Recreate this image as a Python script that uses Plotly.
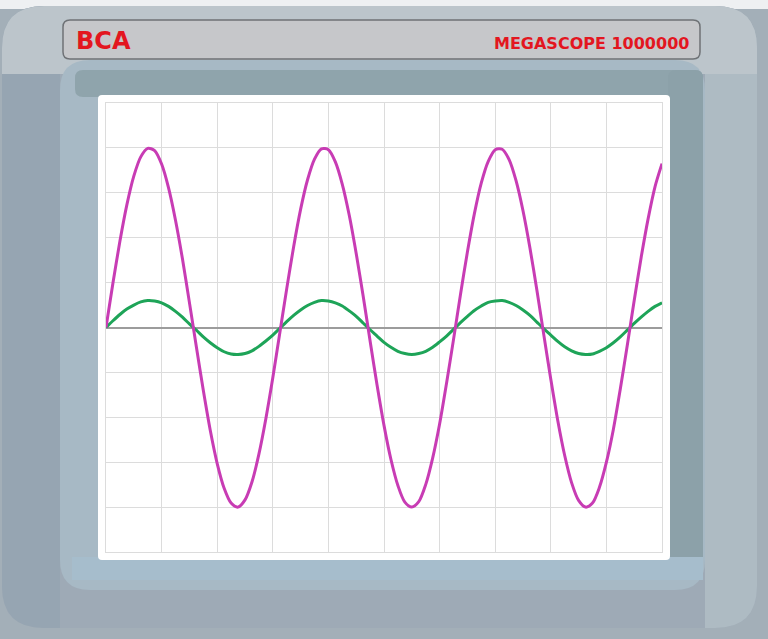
import plotly.graph_objects as go

# ---- data (divisions) ----
time_div = [i * 0.125 for i in range(81)]
channel_a = [0, 0.99, 1.92, 2.73, 3.37, 3.80, 3.99, 3.94, 3.64, 3.11,
             2.39, 1.53, 0.56, -0.43, -1.40, -2.29, -3.03, -3.58, -3.91, -4.00,
             -3.84, -3.44, -2.82, -2.03, -1.12, -0.13, 0.86, 1.80, 2.63, 3.29,
             3.75, 3.98, 3.96, 3.69, 3.19, 2.50, 1.65, 0.70, -0.30, -1.28,
             -2.18, -2.94, -3.52, -3.89, -4.00, -3.88, -3.50, -2.91, -2.15, -1.24,
             -0.27, 0.73, 1.68, 2.53, 3.22, 3.70, 3.96, 3.97, 3.74, 3.27,
             2.60, 1.77, 0.83, -0.17, -1.15, -2.07, -2.85, -3.46, -3.85, -4.00,
             -3.91, -3.56, -3.00, -2.27, -1.37, -0.40, 0.60, 1.56, 2.42, 3.14,
             3.65]
channel_b = [0, 0.15, 0.29, 0.41, 0.50, 0.57, 0.60, 0.59, 0.55, 0.47,
             0.36, 0.23, 0.08, -0.06, -0.21, -0.34, -0.45, -0.54, -0.59, -0.60,
             -0.58, -0.52, -0.42, -0.30, -0.17, -0.02, 0.13, 0.27, 0.39, 0.49,
             0.56, 0.60, 0.59, 0.55, 0.48, 0.37, 0.25, 0.10, -0.05, -0.19,
             -0.33, -0.44, -0.53, -0.58, -0.60, -0.58, -0.53, -0.44, -0.32, -0.19,
             -0.04, 0.11, 0.25, 0.38, 0.48, 0.56, 0.59, 0.60, 0.56, 0.49,
             0.39, 0.27, 0.12, -0.03, -0.17, -0.31, -0.43, -0.52, -0.58, -0.60,
             -0.59, -0.53, -0.45, -0.34, -0.21, -0.06, 0.09, 0.23, 0.36, 0.47,
             0.55]
brand = "BCA"
model = "MEGASCOPE 1000000"

W, H = 768, 639
L, R, T, B = 106, 662, 103, 552


def P(x, y):
    return (x - L) / (R - L), (B - y) / (B - T)


def rrect(x0, y0, x1, y1, r):
    if not isinstance(r, (tuple, list)):
        r = (r, r, r, r)
    tl, tr, br, bl = r

    def f(x, y):
        px, py = P(x, y)
        return f"{px:.5f},{py:.5f}"
    s = f"M {f(x0 + tl, y0)} L {f(x1 - tr, y0)} Q {f(x1, y0)} {f(x1, y0 + tr)} "
    s += f"L {f(x1, y1 - br)} Q {f(x1, y1)} {f(x1 - br, y1)} "
    s += f"L {f(x0 + bl, y1)} Q {f(x0, y1)} {f(x0, y1 - bl)} "
    s += f"L {f(x0, y0 + tl)} Q {f(x0, y0)} {f(x0 + tl, y0)} Z"
    return s


shapes = []


def add(path, fill, line_color=None, lw=0):
    shapes.append(dict(type="path", path=path, xref="paper", yref="paper", layer="below",
                       fillcolor=fill, line=dict(color=line_color or fill, width=lw)))


# background pieces (oscilloscope bezel)
add(rrect(-5, -20, 780, 9, 0), "#eef0f2")
add(rrect(2, 6, 757, 628, 42), "#9eaab6")
add(rrect(2, 6, 60, 628, (42, 0, 0, 42)), "#96a5b2")
add(rrect(705, 6, 757, 628, (0, 42, 42, 0)), "#aebbc3")
add(rrect(2, 6, 757, 74, (42, 42, 0, 0)), "#bcc5cb")
add(rrect(60, 60, 705, 590, 30), "#a7b9c5")
add(rrect(75, 70, 703, 97, 8), "#8fa4ac")
add(rrect(668, 70, 703, 572, 8), "#8ca1a9")
add(rrect(72, 557, 703, 580, 0), "#a6bdcc")
# header bar
add(rrect(63, 20, 700, 59, 7), "#c6c7ca", "#6f7276", 1.5)
# screen
add(rrect(98, 95, 670, 560, 4), "#ffffff")

fig = go.Figure()
fig.add_trace(go.Scatter(x=time_div, y=channel_b, mode="lines",
                         line=dict(color="#1ea458", width=3, shape="spline", smoothing=0.8),
                         hoverinfo="skip"))
fig.add_trace(go.Scatter(x=time_div, y=channel_a, mode="lines",
                         line=dict(color="#c83cb4", width=3, shape="spline", smoothing=0.8),
                         hoverinfo="skip"))

axis_common = dict(showticklabels=False, ticks="", gridcolor="#dcdcdc", gridwidth=1,
                   showline=True, mirror=True, linecolor="#dcdcdc", linewidth=1)
fig.update_xaxes(range=[0, 10], dtick=1, tick0=0, zeroline=False, **axis_common)
fig.update_yaxes(range=[-5, 5], dtick=1, tick0=0, zeroline=True, zerolinecolor="#9c9c9c",
                 zerolinewidth=2, **axis_common)

bx, by = P(74, 41)
mx, my = P(691, 44)
fig.update_layout(
    width=W, height=H, margin=dict(l=L, r=W - R, t=T, b=H - B),
    paper_bgcolor="#a3afb8", plot_bgcolor="#ffffff", showlegend=False,
    shapes=shapes,
    annotations=[
        dict(text=brand, x=bx, y=by, xref="paper", yref="paper", xanchor="left", yanchor="middle",
             showarrow=False, font=dict(family="DejaVu Sans", size=24, color="#e3161f", weight="bold")),
        dict(text=model, x=mx, y=my, xref="paper", yref="paper", xanchor="right", yanchor="middle",
             showarrow=False, font=dict(family="DejaVu Sans", size=16, color="#e3161f", weight="bold")),
    ],
)
fig.write_html("out.html", config={"displayModeBar": False},
               post_script="document.body.style.margin='0';document.body.style.overflow='hidden';")
